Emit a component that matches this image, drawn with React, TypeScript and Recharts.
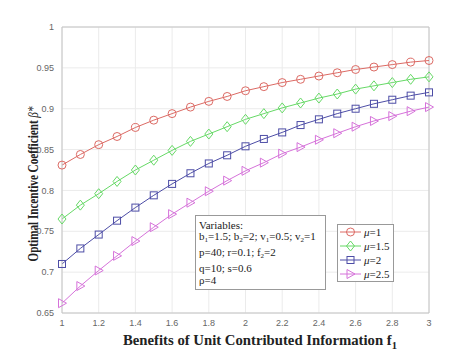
import React from "react";
import { LineChart, Line, XAxis, YAxis, CartesianGrid, ReferenceLine } from "recharts";

const f1Values = [1, 1.1, 1.2, 1.3, 1.4, 1.5, 1.6, 1.7, 1.8, 1.9, 2, 2.1, 2.2, 2.3, 2.4, 2.5, 2.6, 2.7, 2.8, 2.9, 3];
const mu1 = [0.831, 0.844, 0.856, 0.866, 0.877, 0.886, 0.894, 0.902, 0.909, 0.915, 0.922, 0.927, 0.932, 0.936, 0.940, 0.944, 0.948, 0.951, 0.954, 0.957, 0.959];
const mu15 = [0.765, 0.782, 0.796, 0.811, 0.825, 0.837, 0.849, 0.860, 0.869, 0.878, 0.887, 0.894, 0.901, 0.907, 0.913, 0.918, 0.924, 0.928, 0.932, 0.936, 0.939];
const mu2 = [0.710, 0.729, 0.746, 0.763, 0.779, 0.794, 0.808, 0.821, 0.833, 0.843, 0.854, 0.863, 0.871, 0.880, 0.887, 0.894, 0.900, 0.906, 0.911, 0.916, 0.920];
const mu25 = [0.662, 0.683, 0.702, 0.720, 0.738, 0.755, 0.771, 0.785, 0.799, 0.812, 0.824, 0.834, 0.845, 0.853, 0.862, 0.870, 0.878, 0.885, 0.891, 0.897, 0.902];
const xTicks = [1, 1.2, 1.4, 1.6, 1.8, 2, 2.2, 2.4, 2.6, 2.8, 3];
const yTicks = [0.65, 0.7, 0.75, 0.8, 0.85, 0.9, 0.95, 1];
const seriesNames = ["μ=1", "μ=1.5", "μ=2", "μ=2.5"];

const data = f1Values.map((x, i) => ({ x, mu1: mu1[i], mu15: mu15[i], mu2: mu2[i], mu25: mu25[i] }));

const COLORS = ["#dc6a64", "#66d966", "#4d4da6", "#d672da"];
const SERIF = "'Liberation Serif', 'Times New Roman', serif";
const SANS = "'Liberation Sans', Arial, sans-serif";

function Marker({ kind, cx, cy, color }: { kind: number; cx: number; cy: number; color: string }) {
  if (cx == null || cy == null) return null;
  const p = { fill: "none", stroke: color, strokeWidth: 1 };
  if (kind === 0) return <circle cx={cx} cy={cy} r={4} {...p} />;
  if (kind === 1)
    return <polygon points={`${cx},${cy - 5} ${cx + 4},${cy} ${cx},${cy + 5} ${cx - 4},${cy}`} {...p} />;
  if (kind === 2) return <rect x={cx - 3.5} y={cy - 3.5} width={7} height={7} {...p} />;
  return <polygon points={`${cx - 3.5},${cy - 4.5} ${cx + 4.5},${cy} ${cx - 3.5},${cy + 4.5}`} {...p} />;
}

const mkDot = (kind: number) => (props: any) => (
  <Marker key={`${kind}-${props.index}`} kind={kind} cx={props.cx} cy={props.cy} color={COLORS[kind]} />
);

const keys = ["mu1", "mu15", "mu2", "mu25"];

export default function App() {
  return (
    <div style={{ position: "absolute", left: 0, top: 0, width: 474, height: 353, background: "#fff" }}>
      <LineChart width={474} height={353} data={data} margin={{ top: 27, right: 45, left: 0, bottom: 0 }}>
        <CartesianGrid stroke="#ebebeb" strokeWidth={1} />
        <XAxis
          dataKey="x"
          type="number"
          domain={[1, 3]}
          ticks={xTicks}
          height={40}
          tickLine={false}
          tickSize={3}
          tickMargin={4}
          axisLine={{ stroke: "#c4c4c4" }}
          tick={{ fill: "#666", fontSize: 9, fontFamily: SANS }}
          label={{
            content: () => (
              <text x={260} y={345} textAnchor="middle" textLength={274} lengthAdjust="spacingAndGlyphs" fontFamily={SERIF} fontWeight="bold" fontSize={14} fill="#222">
                Benefits of Unit Contributed Information f<tspan fontSize={10} dy={4}>1</tspan>
              </text>
            ),
          }}
        />
        <YAxis
          type="number"
          domain={[0.65, 1]}
          ticks={yTicks}
          width={62}
          tickLine={false}
          tickSize={3}
          tickMargin={5}
          axisLine={{ stroke: "#c4c4c4" }}
          tick={{ fill: "#666", fontSize: 9, fontFamily: SANS }}
          label={{
            content: () => {
              const cx = 38;
              const cy = 184;
              return (
                <text x={cx} y={cy} transform={`rotate(-90 ${cx} ${cy})`} textAnchor="middle" textLength={155} lengthAdjust="spacingAndGlyphs" fontFamily={SERIF} fontWeight="bold" fontSize={14} fill="#222">
                  Optimal Incentive Coefficient <tspan fontStyle="italic" fontWeight="normal">β*</tspan>
                </text>
              );
            },
          }}
        />
        <ReferenceLine y={1} stroke="#c4c4c4" />
        <ReferenceLine x={3} stroke="#c4c4c4" />
        {keys.map((k, i) => (
          <Line
            key={k}
            dataKey={k}
            name={seriesNames[i]}
            stroke={COLORS[i]}
            strokeWidth={1}
            dot={mkDot(i)}
            activeDot={false}
            isAnimationActive={false}
          />
        ))}
      </LineChart>
      <svg width={474} height={353} style={{ position: "absolute", left: 0, top: 0, pointerEvents: "none" }}>
        <rect x={195.5} y={215.5} width={130} height={74} fill="#fff" stroke="#999" strokeWidth={1} />
        <g fontFamily={SERIF} fontSize={11} fill="#222">
          <text x={199} y={229}>Variables:</text>
          <text x={199} y={240}>
            b<tspan fontSize={7} dy={2}>1</tspan><tspan dy={-2}>=1.5; b</tspan><tspan fontSize={7} dy={2}>2</tspan><tspan dy={-2}>=2; v</tspan><tspan fontSize={7} dy={2}>1</tspan><tspan dy={-2}>=0.5; v</tspan><tspan fontSize={7} dy={2}>2</tspan><tspan dy={-2}>=1</tspan>
          </text>
          <text x={199} y={256}>
            p=40; r=0.1; f<tspan fontSize={7} dy={2}>2</tspan><tspan dy={-2}>=2</tspan>
          </text>
          <text x={199} y={272}>q=10; s=0.6</text>
          <text x={199} y={284}>ρ=4</text>
        </g>
        <rect x={337.5} y={224.5} width={56} height={57} fill="#fff" stroke="#999" strokeWidth={1} />
        {seriesNames.map((n, i) => {
          const y = 232 + i * 14;
          return (
            <g key={n}>
              <line x1={340} y1={y} x2={361} y2={y} stroke={COLORS[i]} strokeWidth={1} />
              <Marker kind={i} cx={350.5} cy={y} color={COLORS[i]} />
              <text x={364} y={y + 4} fontFamily={SERIF} fontSize={11} fill="#222">
                <tspan fontStyle="italic">μ</tspan>=
                {n.slice(2)}
              </text>
            </g>
          );
        })}
      </svg>
    </div>
  );
}
